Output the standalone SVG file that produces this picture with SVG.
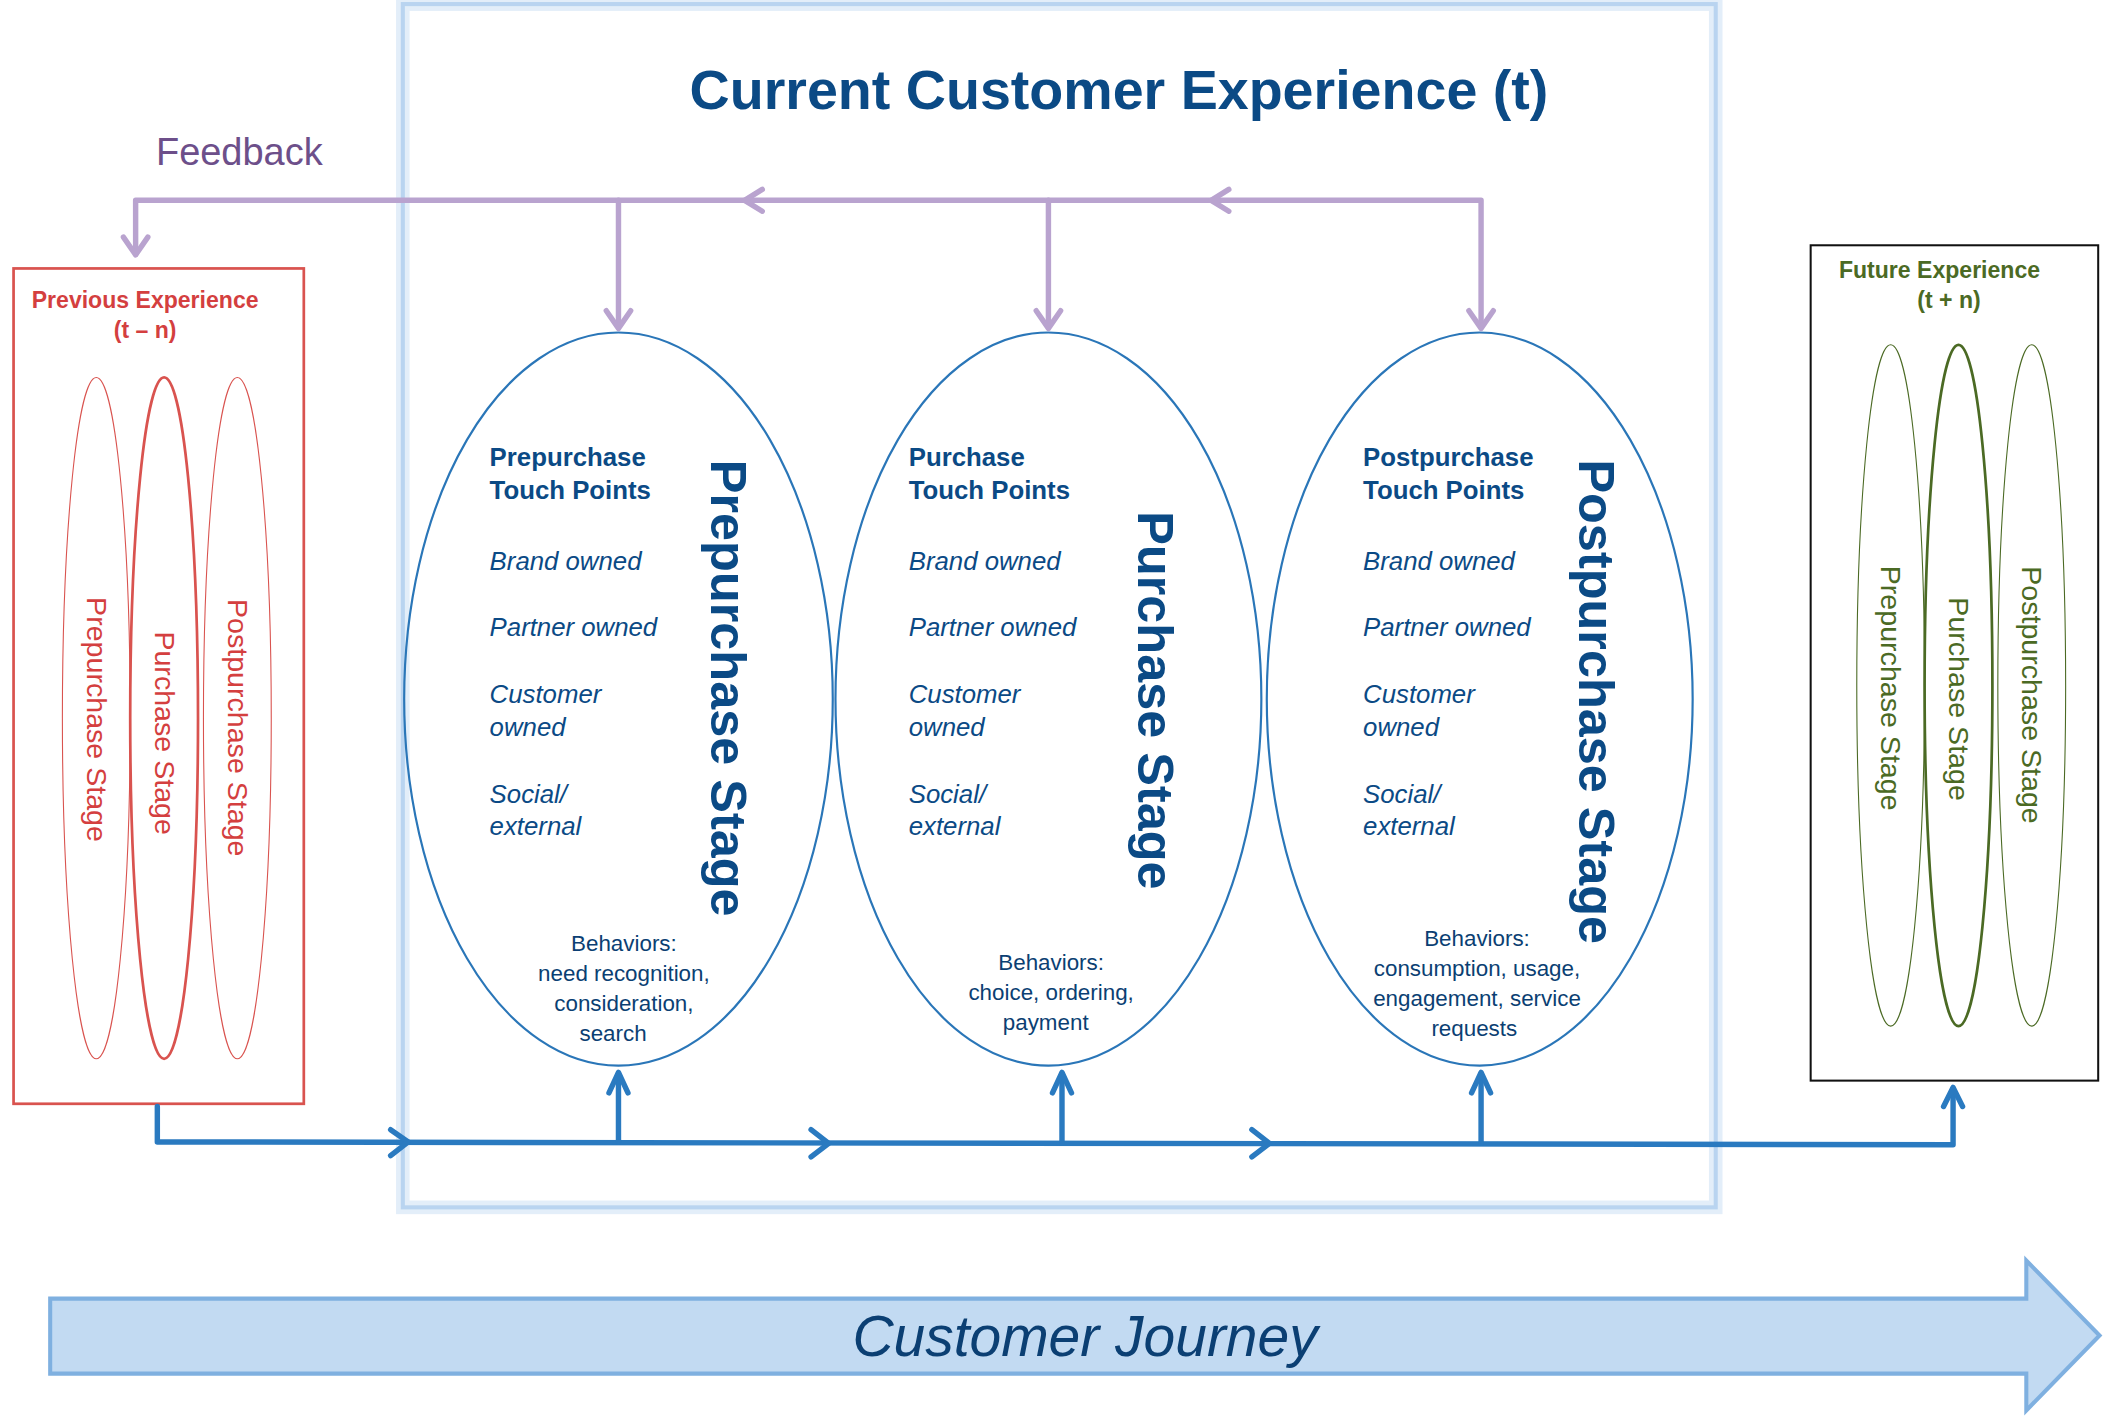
<svg xmlns="http://www.w3.org/2000/svg" width="2105" height="1424" viewBox="0 0 2105 1424">
<style>
text{font-family:"Liberation Sans",Arial,sans-serif}
.blue{fill:#0b4a85}
.tp{font-size:19px;font-weight:bold}
.it{font-size:19px;font-style:italic}
.beh{font-size:16.5px;text-anchor:middle;fill:#0b3f73}
.stage{font-size:37px;font-weight:bold;text-anchor:middle}
.big{fill:none;stroke:#2a76b8;stroke-width:1.6}
.fb{fill:none;stroke:#b9a3cf;stroke-width:4;stroke-linecap:round;stroke-linejoin:round}
.bl{fill:none;stroke:#2a7ac0;stroke-width:4;stroke-linecap:round;stroke-linejoin:round}
.red{fill:#d43f3f}
.grn{fill:#4b6a24}
.small{font-size:21px;text-anchor:middle}
</style>
<rect width="2105" height="1424" fill="#fff"/>
<g transform="scale(1.3563,1.3627)">
<g id="current-frame">
<rect x="297" y="3" width="968" height="883" fill="none" stroke="#e3eef9" stroke-width="10"/>
<rect x="297" y="3" width="968" height="883" fill="none" stroke="#b9d4f0" stroke-width="3"/>
<text x="825" y="80" text-anchor="middle" font-size="41" font-weight="bold" fill="#0b4a85">Current Customer Experience (t)</text>
</g>
<g id="feedback-label"><text x="115" y="121" font-size="28" fill="#6d4f8a">Feedback</text></g>

<g id="previous">
<rect x="10" y="197" width="214" height="613" fill="none" stroke="#d9534f" stroke-width="2"/>
<text x="107" y="226" text-anchor="middle" font-size="17" font-weight="bold" class="red">Previous Experience</text>
<text x="107" y="248" text-anchor="middle" font-size="17" font-weight="bold" class="red">(t – n)</text>
<ellipse cx="71" cy="527" rx="25" ry="250" fill="none" stroke="#d9534f" stroke-width="0.8"/>
<ellipse cx="121" cy="527" rx="25" ry="250" fill="none" stroke="#d9534f" stroke-width="2"/>
<ellipse cx="175" cy="527" rx="25" ry="250" fill="none" stroke="#d9534f" stroke-width="0.8"/>
<text class="small red" transform="translate(64,528) rotate(90)">Prepurchase Stage</text>
<text class="small red" transform="translate(114,538) rotate(90)">Purchase Stage</text>
<text class="small red" transform="translate(168,534) rotate(90)">Postpurchase Stage</text>
</g>

<g id="future">
<rect x="1335" y="180" width="212" height="613" fill="none" stroke="#111" stroke-width="1.5"/>
<text x="1430" y="204" text-anchor="middle" font-size="17" font-weight="bold" class="grn">Future Experience</text>
<text x="1437" y="226" text-anchor="middle" font-size="17" font-weight="bold" class="grn">(t + n)</text>
<ellipse cx="1394" cy="503" rx="25" ry="250" fill="none" stroke="#4b6a24" stroke-width="0.8"/>
<ellipse cx="1444" cy="503" rx="25" ry="250" fill="none" stroke="#4b6a24" stroke-width="2"/>
<ellipse cx="1498" cy="503" rx="25" ry="250" fill="none" stroke="#4b6a24" stroke-width="0.8"/>
<text class="small grn" transform="translate(1387,505) rotate(90)">Prepurchase Stage</text>
<text class="small grn" transform="translate(1437,513) rotate(90)">Purchase Stage</text>
<text class="small grn" transform="translate(1491,510) rotate(90)">Postpurchase Stage</text>
</g>

<g id="prepurchase">
<ellipse class="big" cx="456" cy="513" rx="158" ry="269" fill="#fff"/>
<text class="tp blue" x="361" y="342">Prepurchase</text>
<text class="tp blue" x="361" y="366">Touch Points</text>
<text class="it blue" x="361" y="418">Brand owned</text>
<text class="it blue" x="361" y="467">Partner owned</text>
<text class="it blue" x="361" y="516">Customer</text>
<text class="it blue" x="361" y="540">owned</text>
<text class="it blue" x="361" y="589">Social/</text>
<text class="it blue" x="361" y="613">external</text>
<text class="stage blue" transform="translate(524,505) rotate(90)">Prepurchase Stage</text>
<text class="beh" x="460" y="698">Behaviors:</text>
<text class="beh" x="460" y="720">need recognition,</text>
<text class="beh" x="460" y="742">consideration,</text>
<text class="beh" x="452" y="764">search</text>
</g>

<g id="purchase">
<ellipse class="big" cx="773" cy="513" rx="157" ry="269" fill="none"/>
<text class="tp blue" x="670" y="342">Purchase</text>
<text class="tp blue" x="670" y="366">Touch Points</text>
<text class="it blue" x="670" y="418">Brand owned</text>
<text class="it blue" x="670" y="467">Partner owned</text>
<text class="it blue" x="670" y="516">Customer</text>
<text class="it blue" x="670" y="540">owned</text>
<text class="it blue" x="670" y="589">Social/</text>
<text class="it blue" x="670" y="613">external</text>
<text class="stage blue" transform="translate(839,514) rotate(90)">Purchase Stage</text>
<text class="beh" x="775" y="712">Behaviors:</text>
<text class="beh" x="775" y="734">choice, ordering,</text>
<text class="beh" x="771" y="756">payment</text>
</g>

<g id="postpurchase">
<ellipse class="big" cx="1091" cy="513" rx="157" ry="269" fill="none"/>
<text class="tp blue" x="1005" y="342">Postpurchase</text>
<text class="tp blue" x="1005" y="366">Touch Points</text>
<text class="it blue" x="1005" y="418">Brand owned</text>
<text class="it blue" x="1005" y="467">Partner owned</text>
<text class="it blue" x="1005" y="516">Customer</text>
<text class="it blue" x="1005" y="540">owned</text>
<text class="it blue" x="1005" y="589">Social/</text>
<text class="it blue" x="1005" y="613">external</text>
<text class="stage blue" transform="translate(1164,515) rotate(90)">Postpurchase Stage</text>
<text class="beh" x="1089" y="694">Behaviors:</text>
<text class="beh" x="1089" y="716">consumption, usage,</text>
<text class="beh" x="1089" y="738">engagement, service</text>
<text class="beh" x="1087" y="760">requests</text>
</g>

<g id="connectors">
<path class="fb" d="M100 186 V147 H1092 V240"/>
<path class="fb" d="M456 147 V240 M773 147 V240"/>
<path class="fb" d="M91 174 L100 187 L109 174 M447 228 L456 241 L465 228 M764 228 L773 241 L782 228 M1083 228 L1092 241 L1101 228"/>
<path class="fb" d="M562 139 L549 147 L562 155 M906 139 L893 147 L906 155"/>
<path class="bl" d="M116 812 V838 L1440 840 V799"/>
<path class="bl" d="M456 838 V788 M783 839 V788 M1092 839 V788"/>
<path class="bl" d="M449 802 L456 787 L463 802 M776 802 L783 787 L790 802 M1085 802 L1092 787 L1099 802 M1433 812 L1440 798 L1447 812"/>
<path class="bl" d="M288 829 L301 838 L288 848 M598 829 L611 839 L598 849 M923 829 L936 839 L923 849"/>
</g>

<g id="journey">
<path d="M37 953 H1494 V925 L1548 980 L1494 1035 V1008 H37 Z" fill="#c2daf2" stroke="#7fb0e0" stroke-width="3"/>
<text x="800" y="995" text-anchor="middle" font-size="42" font-style="italic" fill="#0b3f73">Customer Journey</text>
</g>
</g>
</svg>
